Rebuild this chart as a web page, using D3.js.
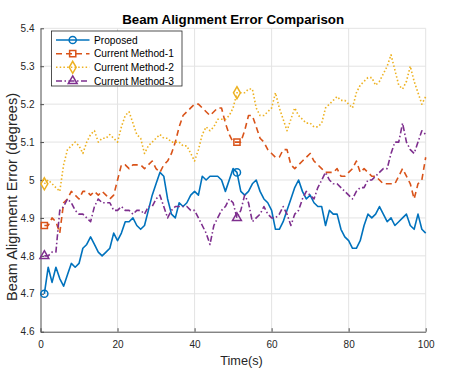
<!DOCTYPE html>
<html lang="en">
<head>
<meta charset="UTF-8">
<title>Beam Alignment Error Comparison</title>
<script src="https://d3js.org/d3.v7.min.js"></script>
<style>
  body { margin: 0; background: #fff; }
  svg { display: block; font-family: "Liberation Sans", Arial, sans-serif; }
  .grid line { stroke: #e3e3e3; stroke-width: 1; }
  .axis path, .axis line { stroke: #4d4d4d; }
  .axis text { fill: #262626; font-size: 10px; }
</style>
</head>
<body>
<div id="chart"></div>
<script>
// values, one per second from t = 1 to t = 100
const proposed = [
  4.70, 4.77, 4.73, 4.77, 4.74, 4.72, 4.75, 4.78, 4.77, 4.78,
  4.82, 4.83, 4.85, 4.83, 4.81, 4.80, 4.81, 4.82, 4.86, 4.84,
  4.86, 4.89, 4.89, 4.90, 4.88, 4.87, 4.88, 4.92, 4.96, 4.99,
  5.02, 5.01, 4.95, 4.91, 4.90, 4.94, 4.93, 4.94, 4.96, 4.97,
  4.96, 5.01, 5.00, 5.01, 5.01, 5.01, 5.00, 4.97, 5.00, 5.03,
  5.02, 4.97, 4.96, 4.97, 4.99, 5.00, 4.97, 4.95, 4.94, 4.92,
  4.87, 4.87, 4.89, 4.92, 4.95, 4.98, 5.00, 4.97, 4.95, 4.96,
  4.94, 4.93, 4.93, 4.88, 4.92, 4.91, 4.91, 4.87, 4.85, 4.84,
  4.82, 4.82, 4.84, 4.88, 4.91, 4.90, 4.91, 4.93, 4.91, 4.89,
  4.90, 4.88, 4.89, 4.90, 4.91, 4.88, 4.87, 4.91, 4.87, 4.86
];
const method1 = [
  4.88, 4.88, 4.90, 4.89, 4.86, 4.94, 4.95, 4.97, 4.96, 4.95,
  4.97, 4.97, 4.96, 4.97, 4.96, 4.97, 4.96, 4.95, 4.96, 5.00,
  5.04, 5.04, 5.03, 5.04, 5.04, 5.04, 5.03, 5.04, 5.05, 5.03,
  5.02, 5.04, 5.05, 5.07, 5.10, 5.14, 5.17, 5.18, 5.19, 5.20,
  5.20, 5.19, 5.18, 5.17, 5.18, 5.19, 5.19, 5.15, 5.12, 5.10,
  5.10, 5.10, 5.13, 5.17, 5.17, 5.14, 5.11, 5.10, 5.08, 5.07,
  5.06, 5.06, 5.08, 5.08, 5.04, 5.03, 5.04, 5.05, 5.06, 5.07,
  5.05, 5.04, 5.03, 5.02, 5.02, 5.02, 5.03, 5.01, 5.01, 5.02,
  5.03, 5.05, 5.02, 5.03, 5.02, 5.01, 5.01, 5.00, 4.99, 4.99,
  4.99, 4.99, 5.01, 5.03, 5.01, 4.99, 4.95, 4.99, 5.00, 5.06
];
const method2 = [
  4.99, 5.00, 4.99, 4.98, 4.97, 5.04, 5.08, 5.09, 5.10, 5.09,
  5.07, 5.10, 5.12, 5.13, 5.10, 5.11, 5.11, 5.12, 5.11, 5.10,
  5.14, 5.17, 5.18, 5.15, 5.12, 5.11, 5.07, 5.09, 5.10, 5.11,
  5.12, 5.11, 5.11, 5.10, 5.10, 5.10, 5.09, 5.09, 5.07, 5.05,
  5.08, 5.12, 5.14, 5.13, 5.14, 5.16, 5.16, 5.16, 5.17, 5.19,
  5.23, 5.23, 5.23, 5.24, 5.24, 5.19, 5.17, 5.17, 5.18, 5.19,
  5.23, 5.19, 5.16, 5.13, 5.16, 5.19, 5.17, 5.16, 5.15, 5.15,
  5.14, 5.14, 5.15, 5.19, 5.20, 5.21, 5.22, 5.21, 5.21, 5.20,
  5.19, 5.23, 5.25, 5.26, 5.27, 5.27, 5.25, 5.26, 5.28, 5.30,
  5.33, 5.29, 5.25, 5.24, 5.26, 5.30, 5.26, 5.23, 5.20, 5.22
];
const method3 = [
  4.80, 4.80, 4.81, 4.81, 4.92, 4.93, 4.95, 4.94, 4.92, 4.91,
  4.91, 4.90, 4.89, 4.93, 4.95, 4.94, 4.94, 4.94, 4.92, 4.92,
  4.93, 4.92, 4.92, 4.91, 4.92, 4.92, 4.91, 4.93, 4.93, 4.95,
  4.96, 4.93, 4.90, 4.92, 4.93, 4.93, 4.93, 4.93, 4.92, 4.92,
  4.90, 4.88, 4.86, 4.83, 4.88, 4.90, 4.92, 4.93, 4.95, 4.94,
  4.90, 4.92, 4.96, 4.94, 4.89, 4.90, 4.91, 4.93, 4.91, 4.90,
  4.90, 4.91, 4.93, 4.91, 4.88, 4.91, 4.92, 4.95, 4.97, 4.96,
  4.95, 4.98, 5.00, 5.02, 5.00, 4.99, 4.99, 4.98, 4.97, 4.96,
  4.95, 4.97, 4.98, 4.98, 5.00, 5.00, 5.01, 5.02, 5.03, 5.03,
  5.07, 5.10, 5.10, 5.15, 5.10, 5.08, 5.07, 5.10, 5.13, 5.12
];
const seriesNames = ["Proposed", "Current Method-1", "Current Method-2", "Current Method-3"];
const xTicks = [0, 20, 40, 60, 80, 100];
const yTicks = [4.6, 4.7, 4.8, 4.9, 5.0, 5.1, 5.2, 5.3, 5.4];
const markerIdx = [0, 50]; // markers on t = 1 and t = 51

const w = 474, h = 373;
const plotL = 40.5, plotR = 425.7, plotT = 28.3, plotB = 331.7;

const x = d3.scaleLinear().domain([0, 100]).range([plotL, plotR]);
const y = d3.scaleLinear().domain([4.6, 5.4]).range([plotB, plotT]);

const styles = [
  { color: "#0072BD", dash: null,        symbol: d3.symbolCircle,   size: 40 },
  { color: "#D95319", dash: "6,4",       symbol: d3.symbolSquare,   size: 38 },
  { color: "#EDB120", dash: "1.5,2.2",   symbol: d3.symbolDiamond,  size: 42 },
  { color: "#7E2F8E", dash: "6,2.5,1.5,2.5", symbol: d3.symbolTriangle, size: 34 }
];

const series = [proposed, method1, method2, method3].map((vals, k) => ({
  name: seriesNames[k],
  style: styles[k],
  points: vals.map((v, i) => ({ t: i + 1, v: v }))
}));

const svg = d3.select("#chart").append("svg")
  .attr("width", w)
  .attr("height", h);

// grid
const grid = svg.append("g").attr("class", "grid");
grid.selectAll(".gx").data(xTicks.slice(1)).enter().append("line")
  .attr("x1", d => x(d)).attr("x2", d => x(d))
  .attr("y1", plotT).attr("y2", plotB);
grid.selectAll(".gy").data(yTicks.slice(1)).enter().append("line")
  .attr("x1", plotL).attr("x2", plotR)
  .attr("y1", d => y(d)).attr("y2", d => y(d));

// axes (ticks point inward, MATLAB style)
svg.append("g")
  .attr("class", "axis")
  .attr("transform", `translate(0,${plotB})`)
  .call(d3.axisBottom(x).tickValues(xTicks).tickSize(-3.5).tickSizeOuter(0).tickPadding(7))
  .selectAll("text").attr("dy", "0.9em");

svg.append("g")
  .attr("class", "axis")
  .attr("transform", `translate(${plotL},0)`)
  .call(d3.axisLeft(y).tickValues(yTicks).tickSize(-3.5).tickSizeOuter(0).tickPadding(6)
    .tickFormat(d => String(+d.toFixed(1))));

// lines
const line = d3.line().x(d => x(d.t)).y(d => y(d.v));
const plot = svg.append("g");

series.forEach(s => {
  plot.append("path")
    .datum(s.points)
    .attr("fill", "none")
    .attr("stroke", s.style.color)
    .attr("stroke-width", 1.6)
    .attr("stroke-dasharray", s.style.dash)
    .attr("stroke-linejoin", "round")
    .attr("d", line);

  plot.selectAll(null)
    .data(markerIdx.map(i => s.points[i]))
    .enter().append("path")
    .attr("transform", d => `translate(${x(d.t)},${y(d.v)})`)
    .attr("d", d3.symbol().type(s.style.symbol).size(s.style.size))
    .attr("fill", "none")
    .attr("stroke", s.style.color)
    .attr("stroke-width", 1.5);
});

// title and axis labels
svg.append("text")
  .attr("x", (plotL + plotR) / 2)
  .attr("y", 24)
  .attr("text-anchor", "middle")
  .attr("font-weight", "bold")
  .attr("font-size", 13.3)
  .attr("fill", "#000")
  .text("Beam Alignment Error Comparison");

svg.append("text")
  .attr("x", 241.5)
  .attr("y", 365)
  .attr("text-anchor", "middle")
  .attr("font-size", 12.7)
  .attr("fill", "#262626")
  .text("Time(s)");

svg.append("text")
  .attr("transform", "translate(16.5,197) rotate(-90)")
  .attr("text-anchor", "middle")
  .attr("font-size", 14.5)
  .attr("fill", "#262626")
  .text("Beam Alignment Error (degrees)");

// legend
const legend = svg.append("g");
legend.append("rect")
  .attr("x", 51.5).attr("y", 31)
  .attr("width", 130.5).attr("height", 55)
  .attr("fill", "#fff")
  .attr("stroke", "#262626")
  .attr("stroke-width", 0.8);

const rowY = [40, 53.7, 67.3, 81];
series.forEach((s, k) => {
  const g = legend.append("g").attr("transform", `translate(0,${rowY[k]})`);
  g.append("line")
    .attr("x1", 56).attr("x2", 89.5)
    .attr("y1", 0).attr("y2", 0)
    .attr("stroke", s.style.color)
    .attr("stroke-width", 1.6)
    .attr("stroke-dasharray", s.style.dash);
  g.append("path")
    .attr("transform", "translate(72.7,0)")
    .attr("d", d3.symbol().type(s.style.symbol).size(s.style.size))
    .attr("fill", "none")
    .attr("stroke", s.style.color)
    .attr("stroke-width", 1.5);
  g.append("text")
    .attr("x", 94)
    .attr("y", 0)
    .attr("dy", "0.36em")
    .attr("font-size", 10.2)
    .attr("fill", "#000")
    .text(s.name);
});
</script>
</body>
</html>
